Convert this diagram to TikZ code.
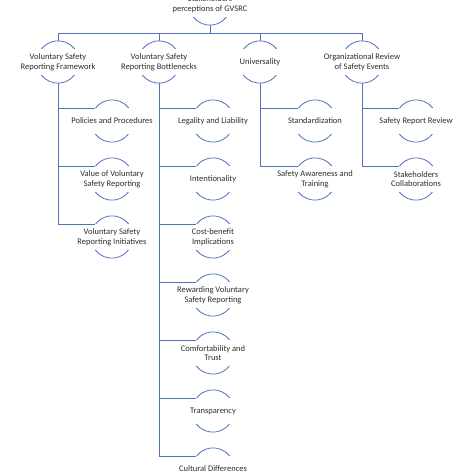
\documentclass[tikz,border=0pt]{standalone}
\usepackage{fontspec}
\setmainfont{Carlito}
\usepackage{xcolor}
\usepackage{tikz}
\usetikzlibrary{positioning,calc}

\definecolor{lnblue}{RGB}{79,114,186}
\definecolor{txtgray}{RGB}{45,45,45}

\begin{document}
\begin{tikzpicture}[
  x=1pt, y=-1pt,
  font=\fontsize{8.5}{9.6}\selectfont,
  link/.style={draw=lnblue, line width=0.8pt},
  arcline/.style={draw=lnblue, line width=0.8pt},
  txt/.style={text=txtgray, align=center, inner sep=0pt},
  topic/.style={circle, minimum size=42pt, inner sep=0pt, label={[txt]center:{#1}}},
]
\useasboundingbox (0,0) rectangle (474,474);
\clip (0,0) rectangle (474,474);
% root
\node[topic={Stakeholders\\perceptions of GVSRC}] (root) at (210,4) {};
% first level
\node[topic={Voluntary Safety\\Reporting Framework}] (vsrf) at (58,62) {};
\node[topic={Voluntary Safety\\Reporting Bottlenecks}] (vsrb) at (159,62) {};
\node[topic={Universality}] (univ) at (260,62) {};
\node[topic={Organizational Review\\of Safety Events}] (orse) at (362,62) {};
% framework
\node[topic={Policies and Procedures}] (pp) at (112,121) {};
\node[topic={Value of Voluntary\\Safety Reporting}] (vvsr) at (112,179) {};
\node[topic={Voluntary Safety\\Reporting Initiatives}] (vsri) at (112,237) {};
% bottlenecks
\node[topic={Legality and Liability}] (ll) at (213,121) {};
\node[topic={Intentionality}] (intent) at (213,179) {};
\node[topic={Cost-benefit\\Implications}] (cbi) at (213,237) {};
\node[topic={Rewarding Voluntary\\Safety Reporting}] (rvsr) at (213,295) {};
\node[topic={Comfortability and\\Trust}] (ct) at (213,353) {};
\node[topic={Transparency}] (transp) at (213,411) {};
\node[topic={Cultural Differences}] (cd) at (213,469) {};
% universality
\node[topic={Standardization}] (std) at (315,121) {};
\node[topic={Safety Awareness and\\Training}] (sat) at (315,179) {};
% organizational review
\node[topic={Safety Report Review}] (srr) at (416,121) {};
\node[topic={Stakeholders\\Collaborations}] (sc) at (416,179) {};
% arcs above and below each label
\foreach \n in {root,vsrf,vsrb,univ,orse,pp,vvsr,vsri,ll,intent,cbi,rvsr,ct,transp,cd,std,sat,srr,sc}{
  \draw[arcline] (\n.38) arc[start angle=38, end angle=142, radius=21pt];
  \draw[arcline] (\n.-142) arc[start angle=-142, end angle=-38, radius=21pt];
}
% connectors
\foreach \n in {vsrf,vsrb,univ,orse}
  \draw[link] (root.south) -- ++(0,8) -| (\n.north);
\foreach \n in {pp,vvsr,vsri}
  \draw[link] (vsrf.south) |- (\n.142);
\foreach \n in {ll,intent,cbi,rvsr,ct,transp,cd}
  \draw[link] (vsrb.south) |- (\n.142);
\foreach \n in {std,sat}
  \draw[link] (univ.south) |- (\n.142);
\foreach \n in {srr,sc}
  \draw[link] (orse.south) |- (\n.142);
\end{tikzpicture}
\end{document}
